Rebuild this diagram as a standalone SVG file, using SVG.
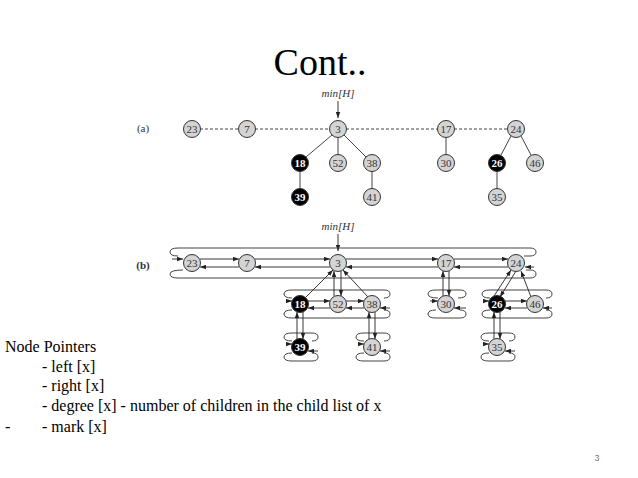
<svg xmlns="http://www.w3.org/2000/svg" width="638" height="478" viewBox="0 0 638 478">
<defs>
<marker id="ah" viewBox="0 0 8 6" refX="8" refY="3" markerWidth="6" markerHeight="5" orient="auto" markerUnits="userSpaceOnUse"><path d="M0,0 L8,3 L0,6 z" fill="#222"/></marker>
</defs>
<style>
.n{fill:#d4d4d4;stroke:#333;stroke-width:1}
.b{fill:#000;stroke:#333;stroke-width:1}
.t{font-family:"Liberation Serif",serif;font-size:11px;text-anchor:middle;fill:#333}
.tw{font-family:"Liberation Serif",serif;font-size:11px;font-weight:bold;text-anchor:middle;fill:#fff}
.e{stroke:#444;stroke-width:1;fill:none}
.d{stroke:#444;stroke-width:1;stroke-dasharray:3,2;fill:none}
.a{stroke:#222;stroke-width:0.9;fill:none;marker-end:url(#ah)}
.lp{fill:none;stroke:#444;stroke-width:1}
.txt{font-family:"Liberation Serif",serif;font-size:16px;fill:#000}
</style>
<rect width="638" height="478" fill="#fff"/>
<text x="320" y="75" font-family="Liberation Serif,serif" font-size="38" text-anchor="middle">Cont..</text>
<text x="143" y="132" class="t" font-size="10">(a)</text>
<text x="143" y="269" class="t" font-size="10" font-weight="bold">(b)</text>
<text x="338" y="97" class="t" font-style="italic">min[H]</text>
<text x="338" y="230" class="t" font-style="italic">min[H]</text>
<g id="connectors">
<path class="a" d="M338,101 V118"/>
<path class="a" d="M338,234 V251"/>
<path class="d" d="M200,129 H239 M255,129 H330 M346,129 H438 M454,129 H508"/>
<path class="e" d="M332,135 L306,157 M338,137 V155 M344,135 L366,157 M446,137 V155 M511,136 L501,155 M521,136 L531,155 M300,171 V189 M372,171 V189 M497,171 V189"/>
<!-- top-level loops -->
<path class="lp" d="M178,256 Q170,256 170,252 Q170,248 178,248 H530 Q536,248 536,252 Q536,256 530,256 H524"/>
<path class="lp" d="M183,270 Q170,270 170,274 Q170,278 178,278 H530 Q536,278 536,274 Q536,270 530,270 H526"/>
<path class="a" d="M172,259 H183"/><path class="a" d="M200,259 H239"/><path class="a" d="M255,259 H330"/><path class="a" d="M346,259 H438"/><path class="a" d="M454,259 H508"/>
<path class="a" d="M239,267 H200"/><path class="a" d="M330,267 H255"/><path class="a" d="M438,267 H346"/><path class="a" d="M508,267 H454"/><path class="a" d="M534,267 H525"/>
<!-- child list 18,52,38 -->
<path class="lp" d="M292,298 Q284,298 284,294 Q284,290 292,290 H384 Q390,290 390,294 Q390,298 384,298"/>
<path class="lp" d="M292,310 Q284,310 284,314 Q284,318 292,318 H384 Q390,318 390,314 Q390,310 384,310"/>
<path class="a" d="M286,301 H292"/><path class="a" d="M308,301 H330"/><path class="a" d="M346,301 H364"/>
<path class="a" d="M330,308 H308"/><path class="a" d="M364,308 H346"/><path class="a" d="M390,308 H380"/>
<!-- 30 -->
<path class="lp" d="M438,298 Q428,298 428,294 Q428,290 436,290 H460 Q466,290 466,294 Q466,298 458,298"/>
<path class="lp" d="M436,310 Q428,310 428,314 Q428,318 436,318 H460 Q466,318 466,314 Q466,310 460,310"/>
<path class="a" d="M430,301 H438"/><path class="a" d="M466,308 H454"/>
<!-- 26,46 -->
<path class="lp" d="M490,298 Q482,298 482,294 Q482,290 490,290 H546 Q552,290 552,294 Q552,298 546,298"/>
<path class="lp" d="M490,310 Q482,310 482,314 Q482,318 490,318 H546 Q552,318 552,314 Q552,310 546,310"/>
<path class="a" d="M484,301 H489"/><path class="a" d="M505,301 H527"/><path class="a" d="M527,308 H505"/><path class="a" d="M552,308 H543"/>
<!-- grandchildren -->
<path class="lp" d="M292,341 Q284,341 284,337 Q284,333 292,333 H312 Q318,333 318,337 Q318,341 312,341"/>
<path class="lp" d="M292,353 Q284,353 284,357 Q284,361 292,361 H312 Q318,361 318,357 Q318,353 312,353"/>
<path class="a" d="M286,344 H292"/><path class="a" d="M318,351 H308"/>
<path class="lp" d="M364,341 Q356,341 356,337 Q356,333 364,333 H384 Q390,333 390,337 Q390,341 384,341"/>
<path class="lp" d="M364,353 Q356,353 356,357 Q356,361 364,361 H384 Q390,361 390,357 Q390,353 384,353"/>
<path class="a" d="M358,344 H364"/><path class="a" d="M390,351 H380"/>
<path class="lp" d="M489,341 Q481,341 481,337 Q481,333 489,333 H509 Q515,333 515,337 Q515,341 509,341"/>
<path class="lp" d="M489,353 Q481,353 481,357 Q481,361 489,361 H509 Q515,361 515,357 Q515,353 509,353"/>
<path class="a" d="M483,344 H489"/><path class="a" d="M515,351 H505"/>
<!-- parent/child pointers -->
<path class="a" d="M306,297 L333,270"/><path class="a" d="M334,296 V271"/><path class="a" d="M341,271 V296"/><path class="a" d="M368,297 L343,270"/>
<path class="a" d="M297,339 V312"/><path class="a" d="M303,312 V339"/>
<path class="a" d="M369,339 V312"/><path class="a" d="M375,312 V339"/>
<path class="a" d="M443,297 V271"/><path class="a" d="M449,271 V296"/>
<path class="a" d="M494,296 L511,270"/><path class="a" d="M516,271 L500,297"/><path class="a" d="M531,297 L521,271"/>
<path class="a" d="M494,339 V312"/><path class="a" d="M500,312 V339"/>
</g>
<g id="a-nodes">
<g id="a23"><circle class="n" cx="192" cy="129" r="8.5"/><text class="t" x="192" y="133">23</text></g>
<g id="a7"><circle class="n" cx="247" cy="129" r="8.5"/><text class="t" x="247" y="133">7</text></g>
<g id="a3"><circle class="n" cx="338" cy="129" r="8.5"/><text class="t" x="338" y="133">3</text></g>
<g id="a17"><circle class="n" cx="446" cy="129" r="8.5"/><text class="t" x="446" y="133">17</text></g>
<g id="a24"><circle class="n" cx="516" cy="129" r="8.5"/><text class="t" x="516" y="133">24</text></g>
<g id="a18"><circle class="b" cx="300" cy="163" r="8.5"/><text class="tw" x="300" y="167">18</text></g>
<g id="a52"><circle class="n" cx="338" cy="163" r="8.5"/><text class="t" x="338" y="167">52</text></g>
<g id="a38"><circle class="n" cx="372" cy="163" r="8.5"/><text class="t" x="372" y="167">38</text></g>
<g id="a30"><circle class="n" cx="446" cy="163" r="8.5"/><text class="t" x="446" y="167">30</text></g>
<g id="a26"><circle class="b" cx="497" cy="163" r="8.5"/><text class="tw" x="497" y="167">26</text></g>
<g id="a46"><circle class="n" cx="535" cy="163" r="8.5"/><text class="t" x="535" y="167">46</text></g>
<g id="a39"><circle class="b" cx="300" cy="197" r="8.5"/><text class="tw" x="300" y="201">39</text></g>
<g id="a41"><circle class="n" cx="372" cy="197" r="8.5"/><text class="t" x="372" y="201">41</text></g>
<g id="a35"><circle class="n" cx="497" cy="197" r="8.5"/><text class="t" x="497" y="201">35</text></g>
</g>
<g id="b-nodes">
<g id="b23"><circle class="n" cx="192" cy="263" r="8.5"/><text class="t" x="192" y="267">23</text></g>
<g id="b7"><circle class="n" cx="247" cy="263" r="8.5"/><text class="t" x="247" y="267">7</text></g>
<g id="b3"><circle class="n" cx="338" cy="263" r="8.5"/><text class="t" x="338" y="267">3</text></g>
<g id="b17"><circle class="n" cx="446" cy="263" r="8.5"/><text class="t" x="446" y="267">17</text></g>
<g id="b24"><circle class="n" cx="516" cy="263" r="8.5"/><text class="t" x="516" y="267">24</text></g>
<g id="b18"><circle class="b" cx="300" cy="304" r="8.5"/><text class="tw" x="300" y="308">18</text></g>
<g id="b52"><circle class="n" cx="338" cy="304" r="8.5"/><text class="t" x="338" y="308">52</text></g>
<g id="b38"><circle class="n" cx="372" cy="304" r="8.5"/><text class="t" x="372" y="308">38</text></g>
<g id="b30"><circle class="n" cx="446" cy="304" r="8.5"/><text class="t" x="446" y="308">30</text></g>
<g id="b26"><circle class="b" cx="497" cy="304" r="8.5"/><text class="tw" x="497" y="308">26</text></g>
<g id="b46"><circle class="n" cx="535" cy="304" r="8.5"/><text class="t" x="535" y="308">46</text></g>
<g id="b39"><circle class="b" cx="300" cy="347" r="8.5"/><text class="tw" x="300" y="351">39</text></g>
<g id="b41"><circle class="n" cx="372" cy="347" r="8.5"/><text class="t" x="372" y="351">41</text></g>
<g id="b35"><circle class="n" cx="497" cy="347" r="8.5"/><text class="t" x="497" y="351">35</text></g>
</g>
<text class="txt" x="5" y="352">Node Pointers</text>
<text class="txt" x="42" y="372">- left [x]</text>
<text class="txt" x="42" y="391">- right [x]</text>
<text class="txt" x="42" y="411">- degree [x]   - number of children in the child list of x</text>
<text class="txt" x="5" y="432">-</text>
<text class="txt" x="42" y="432">- mark [x]</text>
<text x="597" y="461" font-family="Liberation Sans,sans-serif" font-size="9" fill="#777" text-anchor="middle">3</text>
</svg>
